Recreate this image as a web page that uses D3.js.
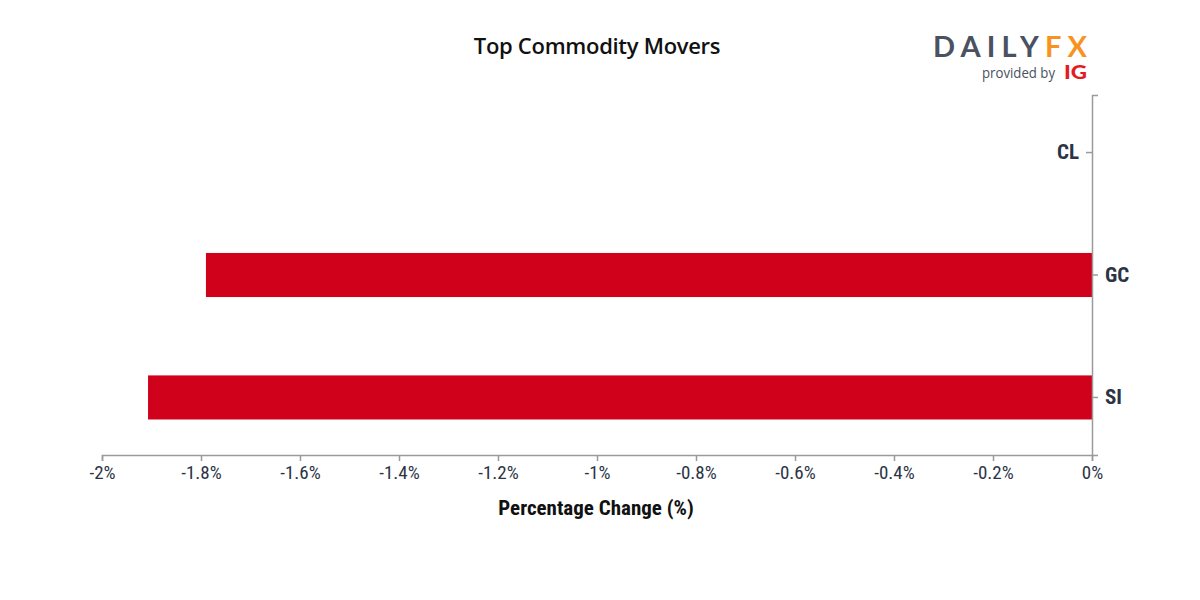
<!DOCTYPE html>
<html>
<head>
<meta charset="utf-8">
<script src="https://cdn.jsdelivr.net/npm/d3@7"></script>
<style>
  html, body { margin: 0; padding: 0; background: #ffffff; }
  svg { display: block; }
  .cond { font-family: "Roboto Condensed", "Liberation Sans Narrow", Roboto, sans-serif; }
</style>
</head>
<body>
<svg id="chart" width="1200" height="600"></svg>
<script>
const categories = ["CL", "GC", "SI"];
const values = [0, -1.79, -1.907];
const xTicks = [-2, -1.8, -1.6, -1.4, -1.2, -1, -0.8, -0.6, -0.4, -0.2, 0];
const titleText = "Top Commodity Movers";
const xLabel = "Percentage Change (%)";

const svg = d3.select("#chart");
const W = 1200, H = 600;
svg.append("rect").attr("width", W).attr("height", H).attr("fill", "#fff");

const x = d3.scaleLinear().domain([-2, 0]).range([102, 1092]);
const y = d3.scaleBand().domain(categories).range([95, 455])
  .paddingInner(0.64).paddingOuter(0.29);

// bars
svg.append("g").selectAll("rect")
  .data(categories.map((c, i) => ({ c, v: values[i] })))
  .join("rect")
  .attr("x", d => x(Math.min(0, d.v)))
  .attr("width", d => Math.abs(x(d.v) - x(0)))
  .attr("y", d => y(d.c))
  .attr("height", y.bandwidth())
  .attr("fill", "#d0021b");

// x axis
const fmt = d => String(+d.toFixed(2)).replace("\u2212", "-") + "%";
const xAxis = svg.append("g")
  .attr("transform", "translate(0,455)")
  .call(d3.axisBottom(x).tickValues(xTicks).tickFormat(fmt).tickSize(6).tickSizeOuter(6).tickPadding(5));
xAxis.selectAll("path, line").attr("stroke", "#9a9a9a").attr("stroke-width", 1.5);
xAxis.selectAll("text").attr("class", "cond").attr("font-size", 19)
  .attr("fill", "#2b3445");

// y axis on right at x=1092
const yAxis = svg.append("g")
  .attr("transform", "translate(1092,0)")
  .call(d3.axisRight(y).tickSize(6).tickSizeOuter(6).tickPadding(7));
yAxis.selectAll("path, line").attr("stroke", "#9a9a9a").attr("stroke-width", 1.5);
yAxis.selectAll("text").attr("class", "cond").attr("font-size", 21)
  .attr("font-weight", "bold").attr("fill", "#2b3445");
// label sits left of axis (tick on left) for non-negative values
yAxis.selectAll(".tick").each(function(d) {
  if (values[categories.indexOf(d)] >= 0) {
    const t = d3.select(this);
    t.select("line").attr("x2", -6);
    t.select("text").attr("x", -13).attr("text-anchor", "end");
  }
});

// title
svg.append("text")
  .attr("x", 597).attr("y", 54)
  .attr("text-anchor", "middle")
  .attr("font-family", "'Open Sans', 'Noto Sans', sans-serif")
  .attr("font-size", 22).attr("font-weight", 600)
  .attr("fill", "#111")
  .attr("letter-spacing", -0.3)
  .text(titleText);

// x label
svg.append("text")
  .attr("class", "cond")
  .attr("x", 596).attr("y", 515)
  .attr("text-anchor", "middle")
  .attr("font-size", 21).attr("font-weight", "bold")
  .attr("fill", "#111")
  .text(xLabel);

// logo
const logo = svg.append("g");
const lt = logo.append("text")
  .attr("x", 933).attr("y", 57)
  .attr("font-family", "Lato, 'Open Sans', sans-serif")
  .attr("font-size", 29).attr("font-weight", 700)
  .attr("textLength", 154).attr("lengthAdjust", "spacing");
lt.append("tspan").attr("fill", "#4a5160").text("DAILY");
lt.append("tspan").attr("fill", "#f7931e").text("FX");
logo.append("text")
  .attr("x", 982).attr("y", 78)
  .attr("font-family", "'Open Sans', 'Noto Sans', sans-serif")
  .attr("font-size", 15).attr("fill", "#4a5160")
  .attr("textLength", 73).attr("lengthAdjust", "spacingAndGlyphs")
  .text("provided by");
logo.append("text")
  .attr("x", 1064).attr("y", 79)
  .attr("font-family", "Lato, 'Open Sans', sans-serif")
  .attr("font-size", 18).attr("font-weight", 900).attr("fill", "#e31b23")
  .attr("textLength", 23).attr("lengthAdjust", "spacingAndGlyphs")
  .text("IG");
</script>
</body>
</html>
